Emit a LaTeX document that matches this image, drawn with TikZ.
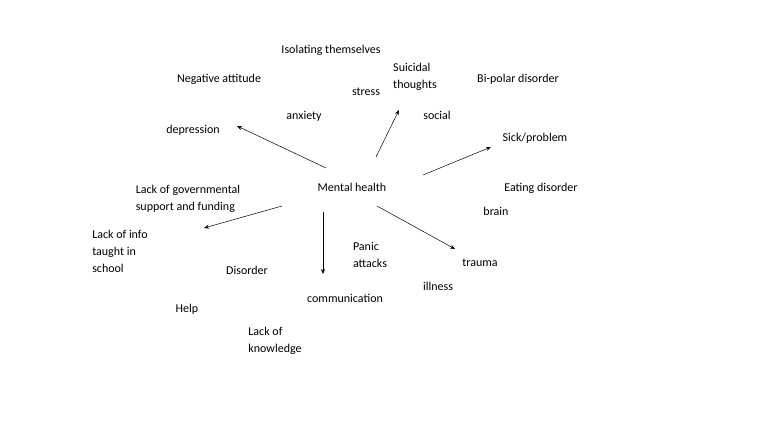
\documentclass[tikz,border=0pt]{standalone}
\usepackage{fontspec}
\setmainfont{Carlito}
\usetikzlibrary{arrows.meta}
\begin{document}
\begin{tikzpicture}[x=1pt,y=-1pt,
  lbl/.style={inner sep=0pt,font=\fontsize{12}{17}\selectfont,align=left},
  arr/.style={-{Stealth[length=5pt,width=4pt]},line width=0.5pt}]
\useasboundingbox (0,0) rectangle (768,433);
\node[lbl] (iso) at (331,50) {Isolating themselves};
\node[lbl] (neg) at (219,79) {Negative attitude};
\node[lbl] (sui) at (415,77) {Suicidal\\thoughts};
\node[lbl] (str) at (366,92) {stress};
\node[lbl] (bip) at (518,79) {Bi-polar disorder};
\node[lbl] (anx) at (304,116) {anxiety};
\node[lbl] (soc) at (437,115) {social};
\node[lbl] (dep) at (193,130) {depression};
\node[lbl] (sick) at (535,138) {Sick/problem};
\node[lbl] (mh) at (352,187) {Mental health};
\node[lbl] (gov) at (188,199) {Lack of governmental\\support and funding};
\node[lbl] (eat) at (541,188) {Eating disorder};
\node[lbl] (brain) at (496,211) {brain};
\node[lbl] (info) at (120,251) {Lack of info\\taught in\\school};
\node[lbl] (panic) at (370,255) {Panic\\attacks};
\node[lbl] (dis) at (247,270) {Disorder};
\node[lbl] (trauma) at (480,263) {trauma};
\node[lbl] (ill) at (438,286) {illness};
\node[lbl] (comm) at (345,298) {communication};
\node[lbl] (help) at (187,309) {Help};
\node[lbl] (know) at (275,341) {Lack of\\knowledge};
\coordinate (s1) at (326,168); \coordinate (e1) at (237,126);
\coordinate (s2) at (376,157); \coordinate (e2) at (399,110);
\coordinate (s3) at (423,175); \coordinate (e3) at (491,147);
\coordinate (s4) at (282,206); \coordinate (e4) at (204,228);
\coordinate (s5) at (323,212); \coordinate (e5) at (323,274);
\coordinate (s6) at (377,206); \coordinate (e6) at (455,249);
\foreach \i in {1,...,6} \draw[arr] (s\i) -- (e\i);
\end{tikzpicture}
\end{document}
